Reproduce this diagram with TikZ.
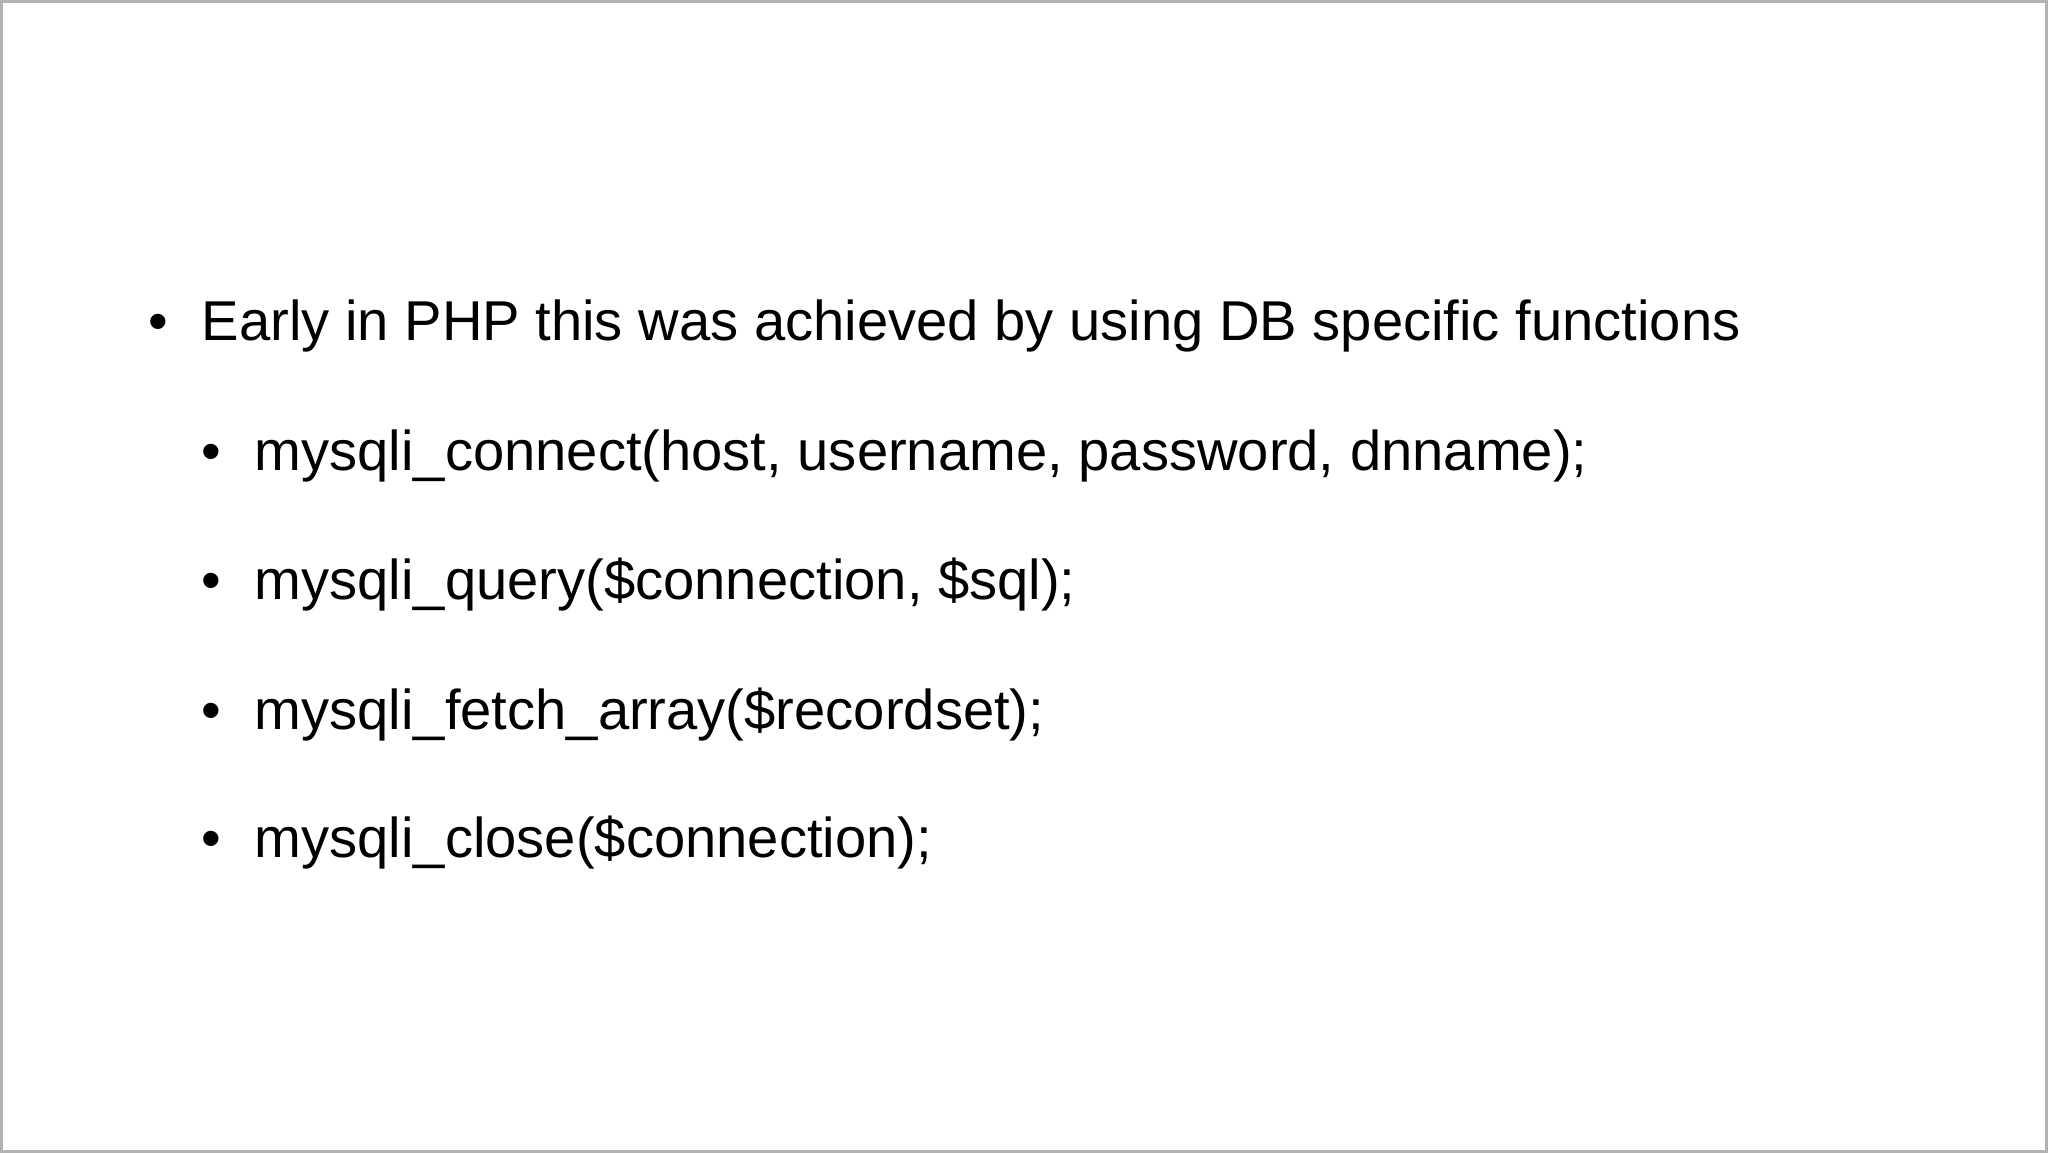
\documentclass[tikz,border=0pt]{standalone}
\usepackage{fontspec}
\setmainfont{Liberation Sans}
\usetikzlibrary{positioning}
\begin{document}
\begin{tikzpicture}[line/.style={anchor=base west,inner sep=0pt,font=\fontsize{16pt}{20pt}\selectfont},
                    dot/.style={anchor=base west,inner sep=0pt,font=\fontsize{16pt}{20pt}\selectfont}]
                    \draw [gray!60,line width=0.8pt] (0,0) rectangle (20.48,11.52);
                    % main point
                    \node [dot] (b0) at (1.47,8.12) {\textbullet};
                    \node [line] (t0) at (2.00,8.12) {Early in PHP this was achieved by using DB specific functions};
                    % sub points
                    \node [dot] (b1) at (2.00,6.82) {\textbullet};
                    \node [line] (t1) at (2.53,6.82) {mysqli\_connect(host, username, password, dnname);};
                    \node [dot] (b2) at (2.00,5.53) {\textbullet};
                    \node [line] (t2) at (2.53,5.53) {mysqli\_query(\$connection, \$sql);};
                    \node [dot] (b3) at (2.00,4.23) {\textbullet};
                    \node [line] (t3) at (2.53,4.23) {mysqli\_fetch\_array(\$recordset);};
                    \node [dot] (b4) at (2.00,2.95) {\textbullet};
                    \node [line] (t4) at (2.53,2.95) {mysqli\_close(\$connection);};
                \end{tikzpicture}
\end{document}
